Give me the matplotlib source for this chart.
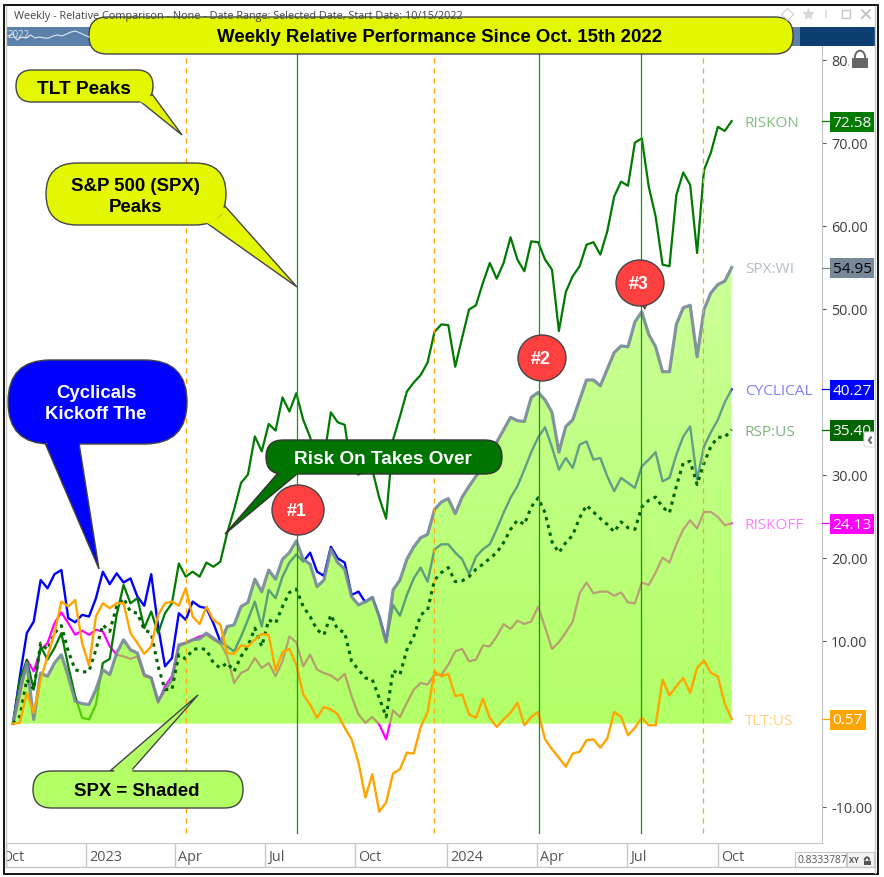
import numpy as np
import matplotlib
matplotlib.use("Agg")
import matplotlib.pyplot as plt
from matplotlib.patches import FancyBboxPatch, Polygon, Ellipse, Rectangle, PathPatch, Arc
from matplotlib.path import Path
from matplotlib.transforms import ScaledTranslation, Bbox

#------Weekly relative performance (%)------
riskon = [0, 5.3, 7.7, 4.1, 9.3, 7.7, 9.1, 10.9, 6.9, 3.3,
          0.7, 0.5, 2.3, 7.3, 7.8, 13.1, 16.7, 14.5, 15.1, 11.5,
          13.5, 10.9, 13.3, 14.5, 19.3, 17.7, 18.3, 17.7, 19.4, 18.9,
          19.5, 23.0, 25.8, 29.0, 30.0, 34.6, 32.8, 36.1, 35.3, 39.3,
          37.6, 39.8, 36.6, 34.5, 31.0, 32.0, 37.5, 36.3, 36.0, 30.6,
          30.0, 30.6, 30.6, 27.2, 24.7, 34.2, 37.0, 40.0, 41.1, 42.0,
          43.5, 47.2, 48.1, 48.0, 43.0, 46.5, 49.9, 50.4, 53.1, 55.5,
          53.6, 55.5, 58.6, 55.9, 54.5, 58.1, 58.0, 55.9, 54.7, 47.3,
          52.0, 53.9, 55.1, 57.7, 58.0, 56.5, 59.3, 63.5, 65.3, 64.8,
          70.0, 70.5, 64.7, 61.1, 55.3, 55.1, 63.7, 66.4, 64.9, 56.7,
          66.7, 68.8, 71.9, 71.4, 72.58]
spx = [0, 4.0, 7.3, 0.5, 6.1, 5.7, 7.3, 8.3, 5.7, 2.7,
       2.4, 2.3, 4.1, 6.5, 5.9, 8.5, 10.1, 8.9, 8.5, 5.9,
       5.5, 2.7, 4.1, 5.3, 9.5, 9.7, 10.1, 10.2, 10.9, 10.3,
       9.7, 11.7, 11.9, 14.1, 14.6, 17.4, 15.9, 18.5, 17.4, 19.8,
       20.6, 22.0, 19.8, 19.2, 16.5, 17.3, 21.0, 19.4, 18.6, 15.3,
       14.3, 14.7, 15.2, 12.9, 9.8, 16.1, 17.3, 19.8, 21.3, 22.4,
       22.8, 25.8, 26.7, 27.1, 25.3, 27.3, 28.6, 29.8, 31.0, 32.2,
       33.9, 35.4, 36.9, 36.5, 36.4, 39.3, 39.9, 39.0, 37.5, 32.7,
       35.8, 36.6, 39.0, 41.4, 41.4, 40.7, 42.7, 44.7, 45.5, 45.4,
       48.4, 49.6, 46.9, 45.4, 42.4, 42.4, 48.1, 50.1, 50.4, 44.2,
       49.9, 51.9, 52.9, 53.3, 54.95]
cyclical = [0, 5.7, 10.9, 12.3, 17.3, 16.3, 18.0, 18.5, 12.7, 12.2,
            13.1, 12.9, 15.1, 18.3, 16.8, 18.1, 17.0, 17.5, 15.3, 14.2,
            18.0, 11.7, 6.9, 7.9, 13.3, 12.5, 14.7, 14.1, 13.9, 12.1,
            9.9, 9.3, 8.7, 10.5, 12.5, 14.7, 11.7, 16.1, 15.1, 17.7,
            19.4, 20.4, 19.5, 20.6, 18.3, 17.8, 21.3, 19.9, 19.4, 15.5,
            15.9, 14.6, 15.2, 12.9, 9.9, 14.3, 13.0, 15.5, 17.5, 18.8,
            17.1, 21.0, 21.6, 21.6, 20.6, 19.8, 18.0, 20.1, 21.0, 21.6,
            23.4, 25.4, 27.2, 28.6, 30.6, 32.7, 34.5, 35.7, 33.3, 30.6,
            32.0, 30.8, 33.6, 34.0, 31.8, 32.0, 29.8, 28.0, 29.6, 29.0,
            28.4, 31.0, 31.8, 32.7, 29.2, 29.6, 32.4, 34.6, 35.8, 29.4,
            33.4, 35.1, 36.6, 38.7, 40.27]
rsp = [0, 0.9, 5.3, 4.1, 9.7, 8.9, 10.9, 11.8, 8.7, 6.5,
       6.2, 6.3, 8.9, 11.9, 11.1, 14.1, 15.1, 13.5, 13.3, 11.3,
       10.9, 6.9, 4.1, 4.1, 8.3, 7.8, 8.9, 9.1, 8.9, 7.3,
       6.7, 7.3, 6.3, 8.1, 9.3, 11.5, 9.3, 12.5, 12.1, 14.1,
       15.8, 16.2, 14.1, 12.9, 11.3, 10.7, 13.1, 11.3, 11.0, 7.5,
       6.5, 5.5, 5.3, 3.1, 0.8, 6.4, 5.9, 8.9, 10.5, 13.1,
       13.7, 17.3, 18.2, 18.8, 17.1, 17.2, 17.7, 18.6, 19.2, 19.9,
       20.6, 21.8, 23.4, 24.5, 24.0, 26.1, 27.2, 25.4, 21.9, 20.6,
       21.8, 22.7, 24.8, 26.3, 25.5, 24.7, 24.0, 23.1, 24.3, 23.6,
       23.4, 26.1, 26.9, 27.3, 26.1, 25.4, 28.6, 31.4, 31.6, 28.8,
       31.4, 33.4, 34.5, 34.5, 35.40]
riskoff = [0, 3.3, 7.7, 6.3, 8.9, 9.7, 12.1, 13.4, 12.1, 10.7,
           11.2, 10.7, 11.3, 11.1, 9.3, 8.3, 8.1, 7.8, 8.1, 5.7,
           5.5, 2.5, 4.5, 5.7, 9.3, 9.7, 10.1, 10.5, 10.7, 10.1,
           9.7, 8.1, 4.9, 6.1, 6.5, 7.9, 6.7, 7.3, 5.7, 7.5,
           10.5, 9.8, 6.9, 8.3, 6.5, 6.1, 5.8, 5.2, 6.0, 3.3,
           1.1, 0.1, 0.8, -0.1, -1.9, 1.6, 0.8, 2.5, 4.1, 4.9,
           4.7, 5.9, 5.9, 7.1, 8.7, 9.0, 7.5, 7.7, 9.4, 9.3,
           10.5, 12.0, 11.4, 12.4, 12.0, 12.3, 14.1, 11.6, 9.0, 9.8,
           11.0, 12.3, 15.7, 17.0, 15.7, 15.9, 15.9, 15.4, 15.8, 14.6,
           14.5, 17.0, 16.7, 18.2, 20.0, 19.4, 21.6, 23.4, 24.5, 23.5,
           25.5, 25.5, 24.9, 23.9, 24.13]
tlt = [0, 0.1, 3.7, 1.3, 5.3, 8.1, 10.9, 14.7, 14.1, 14.9,
       9.7, 7.0, 12.9, 14.5, 13.9, 14.5, 14.5, 10.9, 9.7, 8.4,
       9.3, 13.1, 14.5, 14.7, 14.2, 16.3, 12.9, 12.0, 14.1, 12.5,
       11.9, 8.5, 8.4, 9.4, 9.3, 10.1, 10.8, 10.7, 6.4, 8.6,
       9.0, 7.1, 3.5, 2.3, 0.7, 2.0, 1.7, 1.1, -0.5, -1.9,
       -4.7, -8.9, -6.1, -10.6, -9.5, -6.0, -5.5, -3.5, -3.6, -0.4,
       1.4, 6.3, 5.7, 6.0, 3.3, 3.5, 1.1, 0.7, 3.0, 0.7,
       -0.4, 0.5, 1.3, 2.5, -0.2, 0.8, 1.4, -1.9, -3.1, -4.1,
       -5.2, -3.6, -3.4, -2.0, -1.9, -2.9, -1.8, 1.4, 0.8, -1.4,
       -0.5, 0.7, -0.2, -0.2, 5.3, 3.4, 4.5, 5.5, 3.7, 6.7,
       7.6, 6.1, 5.7, 2.4, 0.57]

series_names = ["RISKON", "SPX:WI", "CYCLICAL", "RSP:US", "RISKOFF", "TLT:US"]
series_colors = ["#007a00", "#778899", "#0000ff", "#006400", "#ff00ff", "#ffa500"]
box_text_colors = ["white", "black", "white", "white", "white", "white"]

spx_peak_weeks = [41.1, 76.1, 90.9]
tlt_peak_weeks = [25.0, 60.9, 99.9]
month_weeks = [-1.0, 10.6, 23.5, 36.5, 49.5, 62.8, 75.8, 88.9, 102.0]
month_labels = ["Oct", "2023", "Apr", "Jul", "Oct", "2024", "Apr", "Jul", "Oct"]
y_ticks = [-10, 10, 20, 30, 50, 60, 70, 80]
navigator_line = [7, 9, 3, 6, 5, 8, 5, 6, 5, 5, 7, 8, 7, 9, 11, 12, 10, 8, 6]

weeks = np.arange(len(spx))

W, H = 884, 878
PX_WEEK = 6.91
X0, Y0, PX_UNIT = 13, 724.6, 8.3

fig = plt.figure(figsize=(W / 100, H / 100), dpi=100, facecolor="white")
plt.rcParams["font.family"] = ["Open Sans", "DejaVu Sans"]

#------Chart axes, placed so the scales line up with the picture------
L, R, T, B = 6, 822, 47, 844
ax = fig.add_axes([L / W, 1 - B / H, (R - L) / W, (B - T) / H])
ax.set_xlim((L - X0) / PX_WEEK, (R - X0) / PX_WEEK)
ax.set_ylim((Y0 - B) / PX_UNIT, (Y0 - T) / PX_UNIT)
xlim, ylim = ax.get_xlim(), ax.get_ylim()

#------Lines that sit under the shading------
ax.plot(weeks, cyclical, color=series_colors[2], lw=1.7, zorder=2)
ax.plot(weeks, riskoff, color=series_colors[4], lw=1.6, zorder=2)
ax.plot(weeks, riskon, color=series_colors[0], lw=1.6, zorder=2)

#------SPX shading, gradient clipped to the area under the line------
n = 64
a = np.linspace(0, 1, n)[:, None]
grad = np.zeros((n, 1, 4))
grad[..., 0] = 174 / 255 + (133 - 174) / 255 * a
grad[..., 1] = 1.0
grad[..., 2] = 93 / 255 + (13 - 93) / 255 * a
grad[..., 3] = 0.63
im = ax.imshow(grad, extent=[weeks[0], weeks[-1], 0, max(spx)], aspect="auto",
               origin="upper", interpolation="bilinear", zorder=3)
verts = [(weeks[0], 0)] + list(zip(weeks, spx)) + [(weeks[-1], 0)]
clip = PathPatch(Path(verts), transform=ax.transData, facecolor="none", edgecolor="none")
ax.add_patch(clip)
im.set_clip_path(clip)
ax.set_xlim(xlim)
ax.set_ylim(ylim)

#------Lines on top of the shading------
ax.plot(weeks, spx, color=series_colors[1], lw=2.3, alpha=0.9, zorder=4)
ax.plot(weeks, rsp, color=series_colors[3], lw=2.2, ls=(0, (1.1, 1.5)), zorder=5)
ax.plot(weeks, tlt, color=series_colors[5], lw=1.7, zorder=6)

#------Peak markers------
vline_bottom = (Y0 - 834) / PX_UNIT
for w in spx_peak_weeks:
    ax.plot([w, w], [vline_bottom, ylim[1]], color="#109a10", lw=0.9, zorder=7)
for w in tlt_peak_weeks:
    ax.plot([w, w], [vline_bottom, ylim[1]], color="#ffa500", lw=0.9, ls=(0, (4, 4)), zorder=7)

#------Axes styling------
for s in ["top", "left"]:
    ax.spines[s].set_visible(False)
ax.spines["right"].set_color("#c4c4c4")
ax.spines["bottom"].set_color("#c8c8c8")
ax.yaxis.tick_right()
ax.set_yticks(y_ticks)
ax.set_yticklabels([f"{v:.2f}" for v in y_ticks])
ax.tick_params(axis="y", length=3, width=0.8, color="#555555", pad=3.5,
               labelsize=10.4, labelcolor="#3c3c3c")
ax.set_xticks(month_weeks)
ax.set_xticklabels(month_labels)
ax.tick_params(axis="x", length=17.3, width=1, color="#c8c8c8", pad=-13,
               labelsize=10.4, labelcolor="#555555")
for i, lab in enumerate(ax.get_xticklabels()):
    dx = -5 if i == 0 else 3
    lab.set_ha("left")
    lab.set_transform(lab.get_transform() + ScaledTranslation(dx / 100, 0, fig.dpi_scale_trans))
    lab.set_clip_box(Bbox([[7, 0], [W, H]]))
    lab.set_clip_on(True)

#------End of line labels and value boxes------
last_values = [riskon[-1], spx[-1], cyclical[-1], rsp[-1], riskoff[-1], tlt[-1]]
for name, val, col, tcol in zip(series_names, last_values, series_colors, box_text_colors):
    ax.text((745 - X0) / PX_WEEK, val - 0.15, name, color=col, alpha=0.5 if name != "SPX:WI" else 0.55,
            fontsize=11.1, va="center", ha="left", zorder=8)
    ax.plot([1, 1.0085], [val, val], color=col, lw=0.9, clip_on=False,
            transform=ax.get_yaxis_transform(), zorder=8)
    ax.annotate(f"{val:.2f}", xy=(1, val - 0.1), xycoords=("axes fraction", "data"),
                xytext=(7.6, 0), textcoords="offset points", color=tcol, fontsize=11.1,
                va="center", ha="left", zorder=9, annotation_clip=False,
                bbox=dict(boxstyle="square,pad=0.17", fc=col, ec="none"))

#------Overlay in pixel coordinates for the window frame and the callouts------
ov = fig.add_axes([0, 0, 1, 1], facecolor="none", zorder=10)
ov.set_xlim(0, W)
ov.set_ylim(H, 0)
ov.axis("off")

# window frame
ov.add_patch(Rectangle((6, 28), 869, 19, fc="#0e3f73", ec="none"))
ov.add_patch(Rectangle((6, 28), 794, 19, fc="#5b80aa", ec="none"))
ov.plot(8 + 4.5 * np.arange(len(navigator_line)), 44 - np.array(navigator_line), color="#dfe8f2", lw=0.8)
ov.text(8, 36, "2022", fontsize=7, color="#dfe8f2", va="center")
ov.text(14, 16, "Weekly - Relative Comparison - None - Date Range: Selected Date, Start Date: 10/15/2022",
        fontsize=7.8, color="#444444", va="center")
ov.add_patch(Rectangle((3.5, 6), 874, 869, fc="none", ec="black", lw=1.3))
ov.plot([6, 6], [7, 868], color="#c8c8c8", lw=1)
ov.plot([875, 875], [7, 874], color="#c8c8c8", lw=1)
ov.plot([6, 875], [868, 868], color="#c8c8c8", lw=1)
ov.plot([787], [15], marker="D", ms=6, mfc="none", mec="#cccccc", mew=0.8)
ov.plot([808], [15], marker="*", ms=8, mfc="#d8d8d8", mec="#d8d8d8")
ov.plot([826, 826], [12, 18], color="#e4e4e4", lw=1.5)
ov.add_patch(Rectangle((842, 11), 8, 8, fc="none", ec="#c4c4c4", lw=1))
ov.plot([862, 870], [11, 19], color="#c4c4c4", lw=1.4)
ov.plot([862, 870], [19, 11], color="#c4c4c4", lw=1.4)


def lock(x, y, s, col):
    ov.add_patch(Rectangle((x - s, y - s * 0.1), 2 * s, 1.2 * s, fc=col, ec="none"))
    ov.add_patch(Arc((x, y - s * 0.1), 1.3 * s, 1.9 * s, theta1=180, theta2=360, ec=col, lw=1.4))


# lock next to the top tick label
ov.add_patch(Rectangle((849, 49), 25, 22, fc="white", ec="none"))
lock(860, 60, 8, "#666666")

# collapse tab over the RSP box
ov.add_patch(FancyBboxPatch((864, 433), 11, 15, boxstyle="round,pad=0,rounding_size=2",
                            fc="white", ec="#dddddd", lw=0.8))
ov.text(869.5, 439.5, "‹", fontsize=12, fontweight="bold", color="#666666", ha="center", va="center")

# readout box in the bottom right corner
ov.add_patch(Rectangle((795, 853), 51, 15, fc="white", ec="#c8c8c8", lw=0.8))
ov.text(797, 861, "0.8333787", fontsize=7.4, color="#555555", va="center", clip_on=True)
ov.add_patch(Rectangle((847, 853), 27, 15, fc="#f4f4f4", ec="#c8c8c8", lw=0.8))
ov.text(854, 860.5, "XY", fontsize=5.5, fontweight="bold", color="#555555", ha="center", va="center")
lock(867, 862, 3.5, "#555555")


def callout(x0, y0, x1, y1, rad, fc, tip=None, base=None, ec="#444444"):
    if tip is not None:
        ov.add_patch(Polygon([base[0], tip, base[1]], closed=True, fc=fc, ec=ec, lw=1.0, joinstyle="miter"))
    ov.add_patch(FancyBboxPatch((x0, y0), x1 - x0, y1 - y0, boxstyle=f"round,pad=0,rounding_size={rad}",
                                fc=fc, ec=ec, lw=1.0))
    if tip is None:
        return
    # cover the box outline where the pointer joins it
    b0, b1, t = np.array(base[0], float), np.array(base[1], float), np.array(tip, float)
    centre = np.array([(x0 + x1) / 2, (y0 + y1) / 2])
    u = (b1 - b0) / np.hypot(*(b1 - b0))
    mid = (b0 + b1) / 2
    d = (centre - mid) / np.hypot(*(centre - mid))
    v = (t - mid) / np.hypot(*(t - mid))
    ov.add_patch(Polygon([b0 + 1.2 * u + 4 * d, b1 - 1.2 * u + 4 * d,
                          b1 - 1.6 * u + 4 * v, b0 + 1.6 * u + 4 * v],
                         closed=True, fc=fc, ec="none"))


BOLD = dict(family="Liberation Sans", fontweight="bold", ha="center", va="center")

callout(89, 18, 793, 55, 18, "#e3f700")
ov.text(440, 38, "Weekly Relative Performance Since Oct. 15th 2022", fontsize=13.4, color="black", **BOLD)

callout(16, 71, 153, 103, 16, "#e3f700", tip=(182, 136), base=[(141, 103), (152, 95)])
ov.text(84, 89, "TLT Peaks", fontsize=13.7, color="black", **BOLD)

callout(46, 164, 226, 226, 31, "#e3f700", tip=(297, 288), base=[(208, 225), (224, 206)])
ov.text(135, 197, "S&P 500 (SPX)\nPeaks", fontsize=13.4, color="black", linespacing=1.3, **BOLD)

callout(8, 361, 187, 445, 42, "#0000ff", tip=(99, 570), base=[(45, 444), (79, 444)])
ov.text(96, 404, "Cyclicals\nKickoff The", fontsize=13.4, color="white", linespacing=1.25, **BOLD)

callout(266, 441, 502, 475, 17, "#007400", tip=(225, 535), base=[(278, 474), (297, 475)], ec="#333333")
ov.text(383, 460, "Risk On Takes Over", fontsize=13.7, color="white", **BOLD)

callout(33, 772, 243, 809, 18.5, "#b2ff66", tip=(198, 696), base=[(110, 772), (131, 772)])
ov.text(137, 792, "SPX = Shaded", fontsize=13.4, color="black", **BOLD)

# numbered peak bubbles, only the last one shows a tail
for cx, cy, rx, ry, txt, tail in [(298, 511, 26, 25, "#1", False), (542, 359, 24, 23, "#2", False),
                                  (640, 284, 24, 23, "#3", True)]:
    if tail:
        ov.add_patch(Polygon([(cx + 1, cy + ry - 2), (cx + 7, cy + ry - 2), (cx + 5, cy + ry + 3)],
                             closed=True, fc="#ff4040", ec="#444444", lw=0.8))
    ov.add_patch(Ellipse((cx, cy), 2 * rx, 2 * ry, fc="#ff4040", ec="#444444", lw=1.0))
    ov.text(cx - 1, cy + 1, txt, fontsize=13, color="white", **BOLD)

fig.savefig("out.png", dpi=100)
